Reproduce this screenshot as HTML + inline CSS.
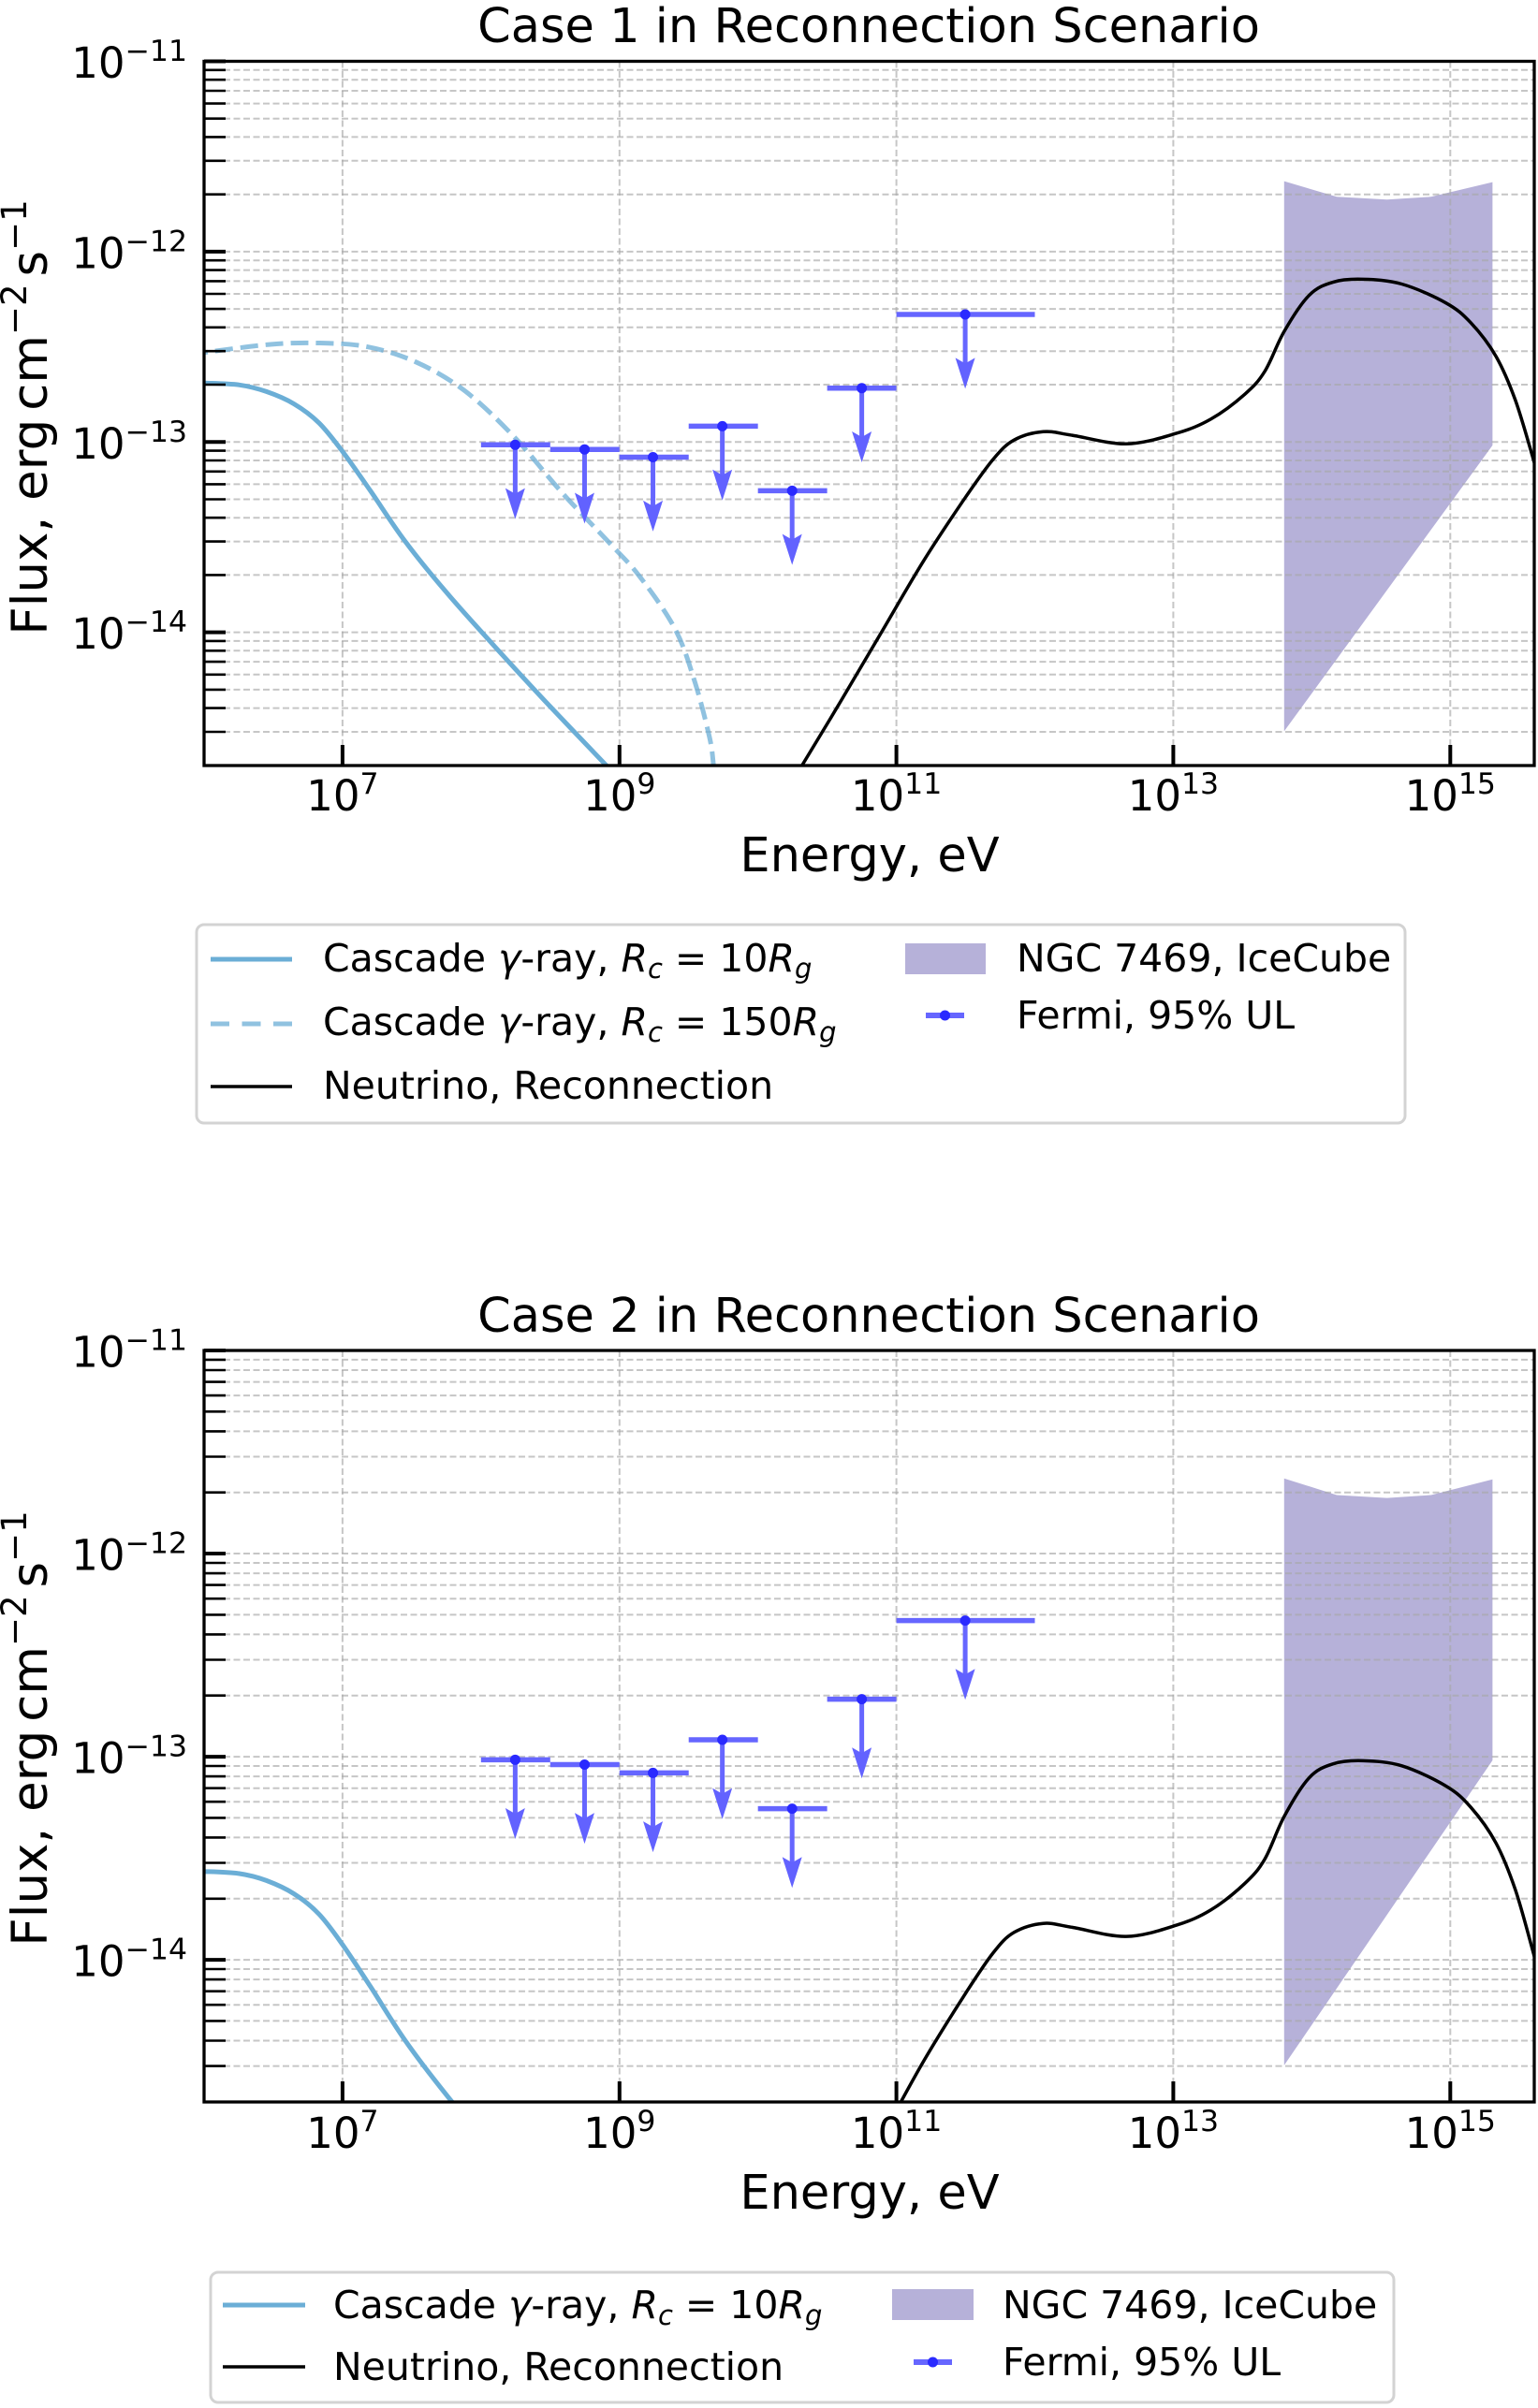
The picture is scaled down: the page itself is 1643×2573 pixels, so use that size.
<!DOCTYPE html>
<html><head><meta charset="utf-8">
<style>
html,body{margin:0;padding:0;background:#fff;width:1643px;height:2573px;overflow:hidden;}
svg{display:block;}
text{font-family:"DejaVu Sans","Liberation Sans",sans-serif;fill:#000;}
</style></head><body>
<svg id="s" xmlns="http://www.w3.org/2000/svg" width="1643" height="2573" viewBox="0 0 1643 2573">
<rect width="1643" height="2573" fill="#fff"/>
<defs>
<clipPath id="c1"><rect x="218" y="65.5" width="1421" height="752.5"/></clipPath>
<clipPath id="c2"><rect x="218" y="1443" width="1421" height="803"/></clipPath>
</defs>
<g id="p1" clip-path="url(#c1)"></g>
<g id="p2" clip-path="url(#c2)"></g>
<g id="f1"></g><g id="f2"></g>
<g id="ax1"></g><g id="ax2"></g>

<!-- Titles -->
<text x="928" y="45" font-size="51" text-anchor="middle">Case 1 in Reconnection Scenario</text>
<text x="928" y="1423" font-size="51" text-anchor="middle">Case 2 in Reconnection Scenario</text>

<!-- X labels -->
<text x="929" y="931" font-size="51" text-anchor="middle">Energy, eV</text>
<text x="929" y="2360" font-size="51" text-anchor="middle">Energy, eV</text>

<!-- Y labels -->
<text transform="translate(50,446) rotate(-90)" font-size="53" text-anchor="middle">Flux, erg<tspan dx="9">cm</tspan><tspan font-size="37" dy="-22">−2</tspan><tspan dx="8" dy="22">s</tspan><tspan font-size="37" dy="-22">−1</tspan></text>
<text transform="translate(50,1847) rotate(-90)" font-size="53" text-anchor="middle">Flux, erg<tspan dx="9">cm</tspan><tspan font-size="37" dy="-22">−2</tspan><tspan dx="8" dy="22">s</tspan><tspan font-size="37" dy="-22">−1</tspan></text>

<!-- Y tick labels -->
<g font-size="45" text-anchor="end">
<text x="200" y="83">10<tspan font-size="31.5" dy="-18">−11</tspan></text>
<text x="200" y="286.4">10<tspan font-size="31.5" dy="-18">−12</tspan></text>
<text x="200" y="489.8">10<tspan font-size="31.5" dy="-18">−13</tspan></text>
<text x="200" y="693.1">10<tspan font-size="31.5" dy="-18">−14</tspan></text>
<text x="200" y="1460.5">10<tspan font-size="31.5" dy="-18">−11</tspan></text>
<text x="200" y="1677.5">10<tspan font-size="31.5" dy="-18">−12</tspan></text>
<text x="200" y="1894.6">10<tspan font-size="31.5" dy="-18">−13</tspan></text>
<text x="200" y="2111.6">10<tspan font-size="31.5" dy="-18">−14</tspan></text>
</g>
<!-- X tick labels -->
<g font-size="45" text-anchor="middle">
<text x="365.9" y="866">10<tspan font-size="31.5" dy="-18">7</tspan></text>
<text x="661.8" y="866">10<tspan font-size="31.5" dy="-18">9</tspan></text>
<text x="957.6" y="866">10<tspan font-size="31.5" dy="-18">11</tspan></text>
<text x="1253.4" y="866">10<tspan font-size="31.5" dy="-18">13</tspan></text>
<text x="1549.3" y="866">10<tspan font-size="31.5" dy="-18">15</tspan></text>
<text x="365.9" y="2295">10<tspan font-size="31.5" dy="-18">7</tspan></text>
<text x="661.8" y="2295">10<tspan font-size="31.5" dy="-18">9</tspan></text>
<text x="957.6" y="2295">10<tspan font-size="31.5" dy="-18">11</tspan></text>
<text x="1253.4" y="2295">10<tspan font-size="31.5" dy="-18">13</tspan></text>
<text x="1549.3" y="2295">10<tspan font-size="31.5" dy="-18">15</tspan></text>
</g>

<!-- Legend 1 -->
<rect x="210" y="988" width="1291" height="212" rx="8" ry="8" fill="#fff" stroke="#d3d3d3" stroke-width="3"/>
<line x1="225" y1="1025" x2="312" y2="1025" stroke="#6baed6" stroke-width="5"/>
<line x1="225" y1="1094" x2="312" y2="1094" stroke="#6baed6" stroke-opacity="0.75" stroke-width="5" stroke-dasharray="20,13.5"/>
<line x1="225" y1="1161" x2="312" y2="1161" stroke="#000" stroke-width="3.5"/>
<rect x="967" y="1008" width="86" height="33" fill="#b6b1d9"/>
<line x1="989" y1="1085" x2="1030" y2="1085" stroke="#6666ff" stroke-width="6"/>
<circle cx="1009.5" cy="1085" r="5.5" fill="#2a2aff"/>
<g font-size="41">
<text x="345" y="1038">Cascade <tspan font-style="italic">γ</tspan>-ray, <tspan font-style="italic">R</tspan><tspan font-size="29" font-style="italic" dy="7">c</tspan><tspan dy="-7"> = 10</tspan><tspan font-style="italic">R</tspan><tspan font-size="29" font-style="italic" dy="7">g</tspan></text>
<text x="345" y="1106">Cascade <tspan font-style="italic">γ</tspan>-ray, <tspan font-style="italic">R</tspan><tspan font-size="29" font-style="italic" dy="7">c</tspan><tspan dy="-7"> = 150</tspan><tspan font-style="italic">R</tspan><tspan font-size="29" font-style="italic" dy="7">g</tspan></text>
<text x="345" y="1174">Neutrino, Reconnection</text>
<text x="1086" y="1038">NGC 7469, IceCube</text>
<text x="1086" y="1099">Fermi, 95% UL</text>
</g>

<!-- Legend 2 -->
<rect x="225" y="2428" width="1264" height="139" rx="8" ry="8" fill="#fff" stroke="#d3d3d3" stroke-width="3"/>
<line x1="238" y1="2463" x2="326" y2="2463" stroke="#6baed6" stroke-width="5"/>
<line x1="238" y1="2529" x2="326" y2="2529" stroke="#000" stroke-width="3.5"/>
<rect x="953" y="2446" width="87" height="33" fill="#b6b1d9"/>
<line x1="976" y1="2524" x2="1017" y2="2524" stroke="#6666ff" stroke-width="6"/>
<circle cx="996.5" cy="2524" r="5.5" fill="#2a2aff"/>
<g font-size="41">
<text x="356" y="2477">Cascade <tspan font-style="italic">γ</tspan>-ray, <tspan font-style="italic">R</tspan><tspan font-size="29" font-style="italic" dy="7">c</tspan><tspan dy="-7"> = 10</tspan><tspan font-style="italic">R</tspan><tspan font-size="29" font-style="italic" dy="7">g</tspan></text>
<text x="356" y="2543">Neutrino, Reconnection</text>
<text x="1071" y="2477">NGC 7469, IceCube</text>
<text x="1071" y="2538">Fermi, 95% UL</text>
</g>
</svg>
<script>
(function(){
const NS='http://www.w3.org/2000/svg';
function el(parent,tag,attrs){const e=document.createElementNS(NS,tag);for(const k in attrs)e.setAttribute(k,attrs[k]);parent.appendChild(e);return e;}
const X=l=>218+(l-6)*147.917;
const P=[
 {top:65.5,bot:818,ppd:203.38,g:'p1',f:'f1',a:'ax1',s:0,dash:true},
 {top:1443,bot:2246,ppd:217.03,g:'p2',f:'f2',a:'ax2',s:-0.875,dash:false}
];
function sm(pts){
 const f=v=>v.toFixed(1);
 let d='M'+f(pts[0][0])+','+f(pts[0][1]);
 for(let i=0;i<pts.length-1;i++){
  const p0=pts[i-1]||pts[i],p1=pts[i],p2=pts[i+1],p3=pts[i+2]||p2;
  const c1=[p1[0]+(p2[0]-p0[0])/6,p1[1]+(p2[1]-p0[1])/6];
  const c2=[p2[0]-(p3[0]-p1[0])/6,p2[1]-(p3[1]-p1[1])/6];
  d+='C'+f(c1[0])+','+f(c1[1])+' '+f(c2[0])+','+f(c2[1])+' '+f(p2[0])+','+f(p2[1]);
 }
 return d;
}
const c10=[[5.9,-12.69],[6,-12.69],[6.25,-12.70],[6.45,-12.735],[6.65,-12.80],[6.83,-12.90],[7.0,-13.05],[7.2,-13.255],[7.45,-13.52],[7.75,-13.79],[8.1,-14.075],[8.5,-14.39],[8.906,-14.70],[9.1,-14.85]];
const c150=[[5.9,-12.54],[6,-12.53],[6.47,-12.488],[6.825,-12.48],[7.18,-12.50],[7.53,-12.58],[7.88,-12.73],[8.236,-12.97],[8.59,-13.27],[8.94,-13.54],[9.15,-13.71],[9.40,-13.98],[9.54,-14.25],[9.65,-14.55],[9.68,-14.70],[9.71,-14.88]];
const nu=[[10.2,-14.84],[10.318,-14.70],[10.6,-14.36],[10.9,-13.99],[11.2,-13.62],[11.5,-13.29],[11.7,-13.09],[11.85,-12.99],[12.06,-12.946],[12.27,-12.965],[12.66,-13.01],[13.02,-12.955],[13.27,-12.88],[13.515,-12.75],[13.66,-12.63],[13.80,-12.42],[13.98,-12.23],[14.155,-12.16],[14.37,-12.145],[14.65,-12.17],[14.97,-12.27],[15.15,-12.375],[15.33,-12.55],[15.47,-12.78],[15.60,-13.09],[15.7,-13.35]];
const bandU=[[13.80,-11.63],[14.18,-11.712],[14.543,-11.726],[14.861,-11.712],[15.305,-11.635]];
const bandL=[[15.305,-13.018],[13.80,-14.52]];
const fermi=[[8,8.5,8.247,-13.015],[8.5,9,8.748,-13.039],[9,9.5,9.242,-13.080],[9.5,10,9.743,-12.917],[10,10.5,10.247,-13.256],[10.5,11,10.75,-12.717],[11,12,11.497,-12.33]];
P.forEach(p=>{
 const Y=l=>p.top+(-11-l)*p.ppd;
 const g=document.getElementById(p.g), f=document.getElementById(p.f), a=document.getElementById(p.a);
 const bp=bandU.concat(bandL).map(q=>X(q[0]).toFixed(1)+','+Y(q[1]).toFixed(1)).join(' ');
 el(g,'polygon',{points:bp,fill:'#b6b1d9'});
 const gg=el(g,'g',{stroke:'#a8a8a8','stroke-opacity':'0.65','stroke-width':'2','stroke-dasharray':'7,3.5',fill:'none'});
 for(let n=-15;n<=-12;n++){for(let k=1;k<=9;k++){const l=n+Math.log10(k);if(l>-14.695&&l<-11.005){const y=Y(l).toFixed(1);el(gg,'line',{x1:218,y1:y,x2:1639,y2:y});}}}
 for(let l=7;l<=15;l+=2){const x=X(l).toFixed(1);el(gg,'line',{x1:x,y1:p.top,x2:x,y2:p.bot});}
 const tr=arr=>arr.map(q=>[X(q[0]),Y(q[1]+p.s)]);
 if(p.dash) el(g,'path',{d:sm(tr(c150)),fill:'none',stroke:'#6baed6','stroke-opacity':'0.75','stroke-width':'5','stroke-dasharray':'19,8'});
 el(g,'path',{d:sm(tr(c10)),fill:'none',stroke:'#6baed6','stroke-width':'5','stroke-linejoin':'round'});
 el(g,'path',{d:sm(tr(nu)),fill:'none',stroke:'#000','stroke-width':'3.5','stroke-linejoin':'round'});
 fermi.forEach(q=>{
  const x0=X(q[0]),x1=X(q[1]),cx=X(q[2]),y=Y(q[3]),tip=Y(q[3]-0.39);
  el(f,'line',{x1:x0,y1:y,x2:x1,y2:y,stroke:'#6666ff','stroke-width':'5.5'});
  el(f,'line',{x1:cx,y1:y,x2:cx,y2:tip-22,stroke:'#6666ff','stroke-width':'5'});
  el(f,'polygon',{points:(cx-10.5)+','+(tip-33)+' '+cx+','+(tip-27)+' '+(cx+10.5)+','+(tip-33)+' '+cx+','+tip,fill:'#6262ff'});
  el(f,'circle',{cx:cx,cy:y,r:5.5,fill:'#2a2aff'});
 });
 for(let n=-15;n<=-11;n++){for(let k=1;k<=9;k++){const l=n+Math.log10(k);if(l>-14.7&&l<=-11.0001||(n===-11&&k===1)){const y=Y(l).toFixed(1);el(a,'line',{x1:218,y1:y,x2:241,y2:y,stroke:'#000','stroke-width':k===1?'4':'2.6'});}}}
 for(let l=7;l<=15;l+=2){const x=X(l).toFixed(1);el(a,'line',{x1:x,y1:p.bot,x2:x,y2:p.bot-22,stroke:'#000','stroke-width':'4'});}
 el(a,'rect',{x:218,y:p.top,width:1421,height:p.bot-p.top,fill:'none',stroke:'#000','stroke-width':'3.3'});
});
})();
</script>
</body></html>
